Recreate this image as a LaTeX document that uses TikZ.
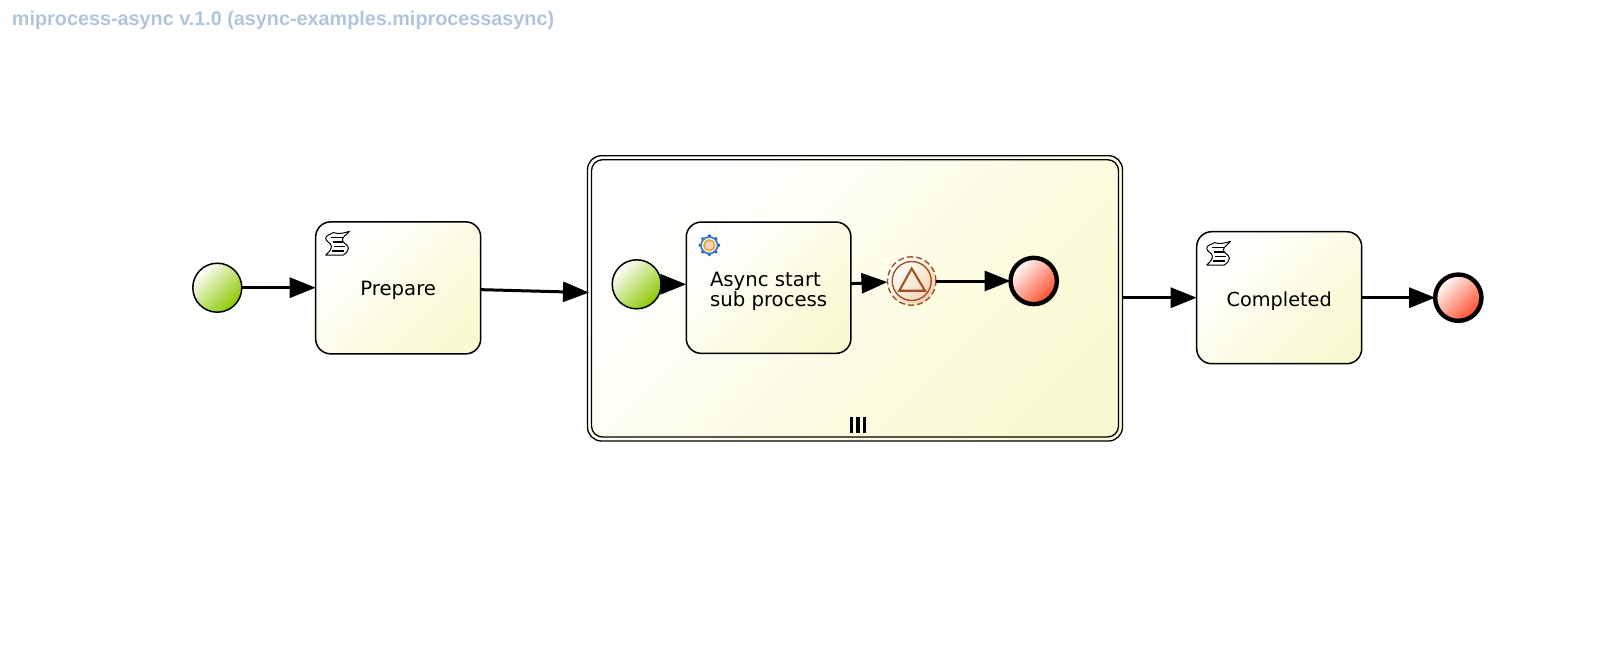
\documentclass[tikz,border=0pt]{standalone}
\usepackage{fontspec}
\setmainfont{DejaVu Sans}
\newfontfamily\titlefont{Liberation Sans}
\usetikzlibrary{arrows.meta}
\definecolor{lsteel}{HTML}{B0C4DE}
\definecolor{taskfill}{HTML}{FAFAD2}
\definecolor{taskmid}{HTML}{FBFBD9}
\definecolor{startfill}{HTML}{8CC800}
\definecolor{startmid}{HTML}{B8DD58}
\definecolor{endfill}{HTML}{FF4A28}
\definecolor{endmid}{HTML}{FF9080}
\definecolor{evfill}{HTML}{F3D5AE}
\definecolor{evmid}{HTML}{F9E8D2}
\definecolor{evline}{HTML}{A0522D}
\newcommand{\tasklabel}[2]{\raisebox{#1}[0pt][0pt]{\begin{tabular}[t]{@{}l@{}}#2\end{tabular}}}
\tikzset{
  x=1pt,y=-1pt,
  every node/.style={outer sep=0pt,inner sep=0pt},
  taskbox/.style={draw=black,line width=1.5pt,rounded corners=15pt,
    minimum width=165pt,minimum height=132pt,
    font=\fontsize{19.7}{19.7}\selectfont,
    top color=white,middle color=taskmid,bottom color=taskfill,shading angle=45},
  subbox/.style={draw=black,line width=1.3pt,rounded corners=14pt,
    minimum width=535pt,minimum height=285.3pt,
    top color=white,middle color=taskmid,bottom color=taskfill,shading angle=45},
  subinner/.style={draw=black,line width=1.3pt,rounded corners=11pt,
    minimum width=527pt,minimum height=277.3pt},
  startev/.style={circle,draw=black,line width=1.5pt,minimum size=49pt,
    top color=white,middle color=startmid,bottom color=startfill,shading angle=45},
  endev/.style={circle,draw=black,line width=4.4pt,minimum size=46.3pt,
    top color=white,middle color=endmid,bottom color=endfill,shading angle=45},
  catchev/.style={circle,draw=evline,line width=1.4pt,dash pattern=on 6pt off 3.2pt,
    minimum size=48.5pt,top color=white,middle color=evmid,bottom color=evfill,shading angle=45},
  evinner/.style={circle,draw=evline,line width=1.4pt,minimum size=39pt},
  evtri/.style={draw=evline,line width=2.1pt,line join=miter},
  flow/.style={draw=black,line width=3pt,-{Triangle[length=26pt,width=20pt]}},
  scripticon/.pic={
    \draw[line width=1pt,fill=white,line join=round] (7.7,1.3)
      .. controls (13,3) and (18,2) .. (23.7,0)
      .. controls (22,3) and (16.7,5) .. (16.7,8.7)
      .. controls (16.7,12) and (22.7,13) .. (22.7,17)
      .. controls (22.7,20) and (20,22) .. (17.7,23.7)
      -- (0,23.7)
      .. controls (3,21) and (5.7,18.5) .. (5.7,15)
      .. controls (5.7,11.5) and (0,10.5) .. (0,7)
      .. controls (0,4) and (5,3) .. (7.7,1.3) -- cycle;
    \draw[line width=1.1pt] (5,6) -- (17,6) (7,10.7) -- (17,10.7)
      (8.5,15.3) -- (19,15.3) (6,19.7) -- (18.5,19.7);
  },
  serviceicon/.pic={
    \foreach \a in {0,45,...,315}{\fill[blue!60!cyan!70!black] (\a:9.3pt) circle (1.7pt);}
    \fill[white] (0,0) circle (8.5pt);
    \draw[line width=1.8pt,draw={rgb,255:red,70;green,120;blue,190}] (0,0) circle (8.3pt);
    \draw[line width=1.6pt,draw={rgb,255:red,225;green,170;blue,40},fill={rgb,255:red,250;green,205;blue,195}] (0,0) circle (5.4pt);
  }
}
\begin{document}
\begin{tikzpicture}
\useasboundingbox (0,0) rectangle (1600,650);
\node[anchor=west,text=lsteel,font=\titlefont\bfseries\fontsize{19.8}{22}\selectfont] (title) at (12,20) {miprocess-async v.1.0 (async-examples.miprocessasync)};

\node[startev] (start) at (217.3,287.7) {};
\node[taskbox] (prepare) at (398.2,287.85) {\tasklabel{-8pt}{Prepare}};
\node[subbox] (sub) at (855,298.35) {};
\node[subinner] (subin) at (855,298.35) {};
\node[startev] (istart) at (636.7,284.3) {};
\node[taskbox,minimum width=164.7pt,minimum height=131.3pt] (async) at (768.6,287.7) {\tasklabel{1.7pt}{Async start\\sub process}};
\node[catchev] (catch) at (911.7,281) {};
\node[evinner] (catchin) at (911.7,281) {};
\node[endev] (iend) at (1033.7,281) {};
\node[taskbox,font=\fontsize{19.3}{19.7}\selectfont] (done) at (1279.2,297.7) {\tasklabel{-8.3pt}{Completed}};
\node[endev] (end) at (1458.3,297.7) {};

\draw[flow] (start) -- (prepare.west |- start);
\draw[flow] ([yshift=-1.8pt]prepare.east) -- ([yshift=5.8pt,xshift=1.5pt]sub.west);
\draw[flow] (istart) -- (async.west |- istart);
\draw[flow] ([yshift=4pt]async.east) -- (catch);
\draw[flow] (catch.east) -- (iend.west);
\draw[flow] (sub.east |- done) -- (done.west);
\draw[flow] (done.east) -- (end.west);

\draw[evtri] (911.7,268.5) -- (925,290.7) -- (899.3,290.7) -- cycle;
\fill (849.5,416.7) rectangle (853,432.7);
\fill (856,416.7) rectangle (859.5,432.7);
\fill (862.5,416.7) rectangle (866,432.7);

\pic at (325.7,231.3) {scripticon};
\pic at (1206.7,241.3) {scripticon};
\pic at (709.3,245.3) {serviceicon};
\end{tikzpicture}
\end{document}
